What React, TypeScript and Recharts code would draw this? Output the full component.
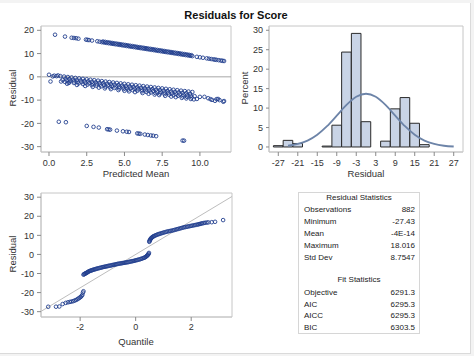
import React from 'react';
import {
  ScatterChart, Scatter, XAxis, YAxis, ReferenceLine, ReferenceArea,
  ComposedChart, Bar, Line,
} from 'recharts';

// ---------- data ----------
const title = 'Residuals for Score';

// Residual vs predicted mean (three bands)
const upperBand: [number, number][] = [
  [0.4, 18.1], [1.06, 17.3], [1.5, 16.8], [1.65, 16.7], [1.8, 16.6], [1.95, 16.4],
  [2.45, 16.0], [2.55, 15.9], [2.65, 15.8], [2.85, 15.6], [3.2, 15.3], [3.35, 15.1],
  [3.5, 14.9], [3.65, 14.75], [3.8, 14.6], [3.95, 14.45], [4.1, 14.3], [4.25, 14.15],
  [4.4, 14.0], [4.55, 13.85], [4.7, 13.7], [4.85, 13.55], [5.0, 13.4], [5.15, 13.25],
  [5.3, 13.1], [5.45, 12.95], [5.6, 12.8], [5.75, 12.65], [5.9, 12.5], [6.05, 12.35],
  [6.2, 12.2], [6.35, 12.05], [6.5, 11.9], [6.65, 11.75], [6.8, 11.6], [6.95, 11.45],
  [7.1, 11.3], [7.25, 11.15], [7.4, 11.0], [7.55, 10.85], [7.7, 10.7], [7.85, 10.55],
  [8.0, 10.4], [8.15, 10.25], [8.3, 10.1], [8.45, 9.95], [8.6, 9.8], [8.75, 9.65],
  [8.9, 9.5], [9.05, 9.35], [9.2, 9.2], [9.35, 9.05], [9.5, 8.9],
  [9.8, 8.6], [10.0, 8.4], [10.2, 8.2], [10.45, 7.95], [10.6, 7.8], [10.75, 7.65],
  [10.9, 7.5], [11.0, 7.4], [11.1, 7.3], [11.25, 7.15], [11.4, 7.0], [11.5, 6.9], [11.6, 6.8],
];

const upperBand2: [number, number][] = [
  [3.58, 15.17], [3.73, 15.02], [3.88, 14.87], [4.03, 14.72], [4.18, 14.57], [4.33, 14.42],
  [4.48, 14.27], [4.63, 14.12], [4.78, 13.97], [4.93, 13.82], [5.08, 13.67], [5.23, 13.52],
  [5.38, 13.37], [5.53, 13.22], [5.68, 13.07], [5.83, 12.92], [5.98, 12.77], [6.13, 12.62],
  [6.28, 12.47], [6.43, 12.32], [6.58, 12.17], [6.73, 12.02], [6.88, 11.87], [7.03, 11.72],
  [7.18, 11.57], [7.33, 11.42], [7.48, 11.27], [7.63, 11.12], [7.78, 10.97], [7.93, 10.82],
  [8.08, 10.67], [8.23, 10.52], [8.38, 10.37], [8.53, 10.22], [8.68, 10.07], [8.83, 9.92],
  [8.98, 9.77], [9.13, 9.62], [9.28, 9.47], [9.43, 9.32],
];

const middleTop: [number, number][] = [
  [0.75, 0.32], [1.0, 0.12], [1.25, -0.08], [1.5, -0.27], [1.75, -0.47], [2.0, -0.66],
  [2.25, -0.86], [2.5, -1.05], [2.75, -1.25], [3.0, -1.44], [3.25, -1.64], [3.5, -1.83],
  [3.75, -2.03], [4.0, -2.22], [4.25, -2.42], [4.5, -2.61], [4.75, -2.81], [5.0, -3.0],
  [5.25, -3.2], [5.5, -3.39], [5.75, -3.59], [6.0, -3.78], [6.25, -3.98], [6.5, -4.17],
  [6.75, -4.37], [7.0, -4.56], [7.25, -4.76], [7.5, -4.95], [7.75, -5.15], [8.0, -5.34],
  [8.25, -5.54], [8.5, -5.73], [8.75, -5.93], [9.0, -6.12], [9.25, -6.32], [9.5, -6.51],
];

const middleUpperMid: [number, number][] = [
  [1.1, -0.72], [1.35, -0.92], [1.6, -1.11], [1.85, -1.31], [2.1, -1.51], [2.35, -1.71],
  [2.6, -1.9], [2.85, -2.1], [3.1, -2.3], [3.35, -2.5], [3.6, -2.69], [3.85, -2.89],
  [4.1, -3.09], [4.35, -3.29], [4.6, -3.48], [4.85, -3.68], [5.1, -3.88], [5.35, -4.08],
  [5.6, -4.27], [5.85, -4.47], [6.1, -4.67], [6.35, -4.87], [6.6, -5.06], [6.85, -5.26],
  [7.1, -5.46], [7.35, -5.66], [7.6, -5.85], [7.85, -6.05], [8.1, -6.25], [8.35, -6.45],
  [8.6, -6.64], [8.85, -6.84], [9.1, -7.04], [9.35, -7.24],
];

const middleCore: [number, number][] = [
  [0.9, -1.32], [1.15, -1.52], [1.4, -1.72], [1.65, -1.92], [1.9, -2.12], [2.15, -2.32],
  [2.4, -2.52], [2.65, -2.72], [2.9, -2.92], [3.15, -3.12], [3.4, -3.32], [3.65, -3.52],
  [3.9, -3.72], [4.15, -3.92], [4.4, -4.12], [4.65, -4.32], [4.9, -4.52], [5.15, -4.72],
  [5.4, -4.92], [5.65, -5.12], [5.9, -5.32], [6.15, -5.52], [6.4, -5.72], [6.65, -5.92],
  [6.9, -6.12], [7.15, -6.32], [7.4, -6.52], [7.65, -6.72], [7.9, -6.92], [8.15, -7.12],
  [8.4, -7.32], [8.65, -7.52], [8.9, -7.72], [9.15, -7.92], [9.4, -8.12], [9.65, -8.32],
];

const middleLowerMid: [number, number][] = [
  [1.05, -2.14], [1.35, -2.38], [1.65, -2.62], [1.95, -2.86], [2.25, -3.1], [2.55, -3.34],
  [2.85, -3.58], [3.15, -3.82], [3.45, -4.06], [3.75, -4.3], [4.05, -4.54], [4.35, -4.78],
  [4.65, -5.02], [4.95, -5.26], [5.25, -5.5], [5.55, -5.74], [5.85, -5.98], [6.15, -6.22],
  [6.45, -6.46], [6.75, -6.7], [7.05, -6.94], [7.35, -7.18], [7.65, -7.42], [7.95, -7.66],
  [8.25, -7.9], [8.55, -8.14], [8.85, -8.38], [9.15, -8.62], [9.45, -8.86],
];

const middleLow: [number, number][] = [
  [1.2, -2.96], [1.85, -3.48], [2.4, -3.92], [2.9, -4.32], [3.3, -4.64], [3.7, -4.96],
  [4.1, -5.28], [4.6, -5.68], [5.0, -6.0], [5.3, -6.24], [5.7, -6.56], [6.2, -6.96],
  [6.6, -7.28], [7.0, -7.6], [7.3, -7.84], [7.7, -8.16], [8.1, -8.48], [8.4, -8.72],
  [8.8, -9.04], [9.1, -9.28], [9.4, -9.52], [9.6, -9.68],
];

const middleEnds: [number, number][] = [
  [0.0, 0.9], [0.1, -2.0], [0.25, 0.2], [0.35, 0.5], [0.5, 0.3], [0.6, 0.6], [0.8, -2.0],
  [1.3, -2.6], [9.8, -9.5], [10.0, -8.6], [10.3, -8.6], [10.55, -9.2], [10.7, -9.6],
  [10.8, -9.9], [11.0, -10.3], [11.1, -9.6], [11.2, -9.5], [11.3, -10.0], [11.55, -10.7], [11.6, -10.4],
];

const lowerBand: [number, number][] = [
  [0.65, -19.3], [1.12, -19.5], [2.5, -21.1], [2.95, -21.5], [3.3, -21.8], [3.85, -22.5],
  [3.95, -22.6], [4.05, -22.7], [4.5, -23.1], [4.9, -23.4], [5.15, -23.6], [5.3, -23.7],
  [5.85, -24.3], [5.95, -24.4], [6.05, -24.5], [6.35, -24.8], [6.55, -25.0], [6.75, -25.2],
  [6.9, -25.3], [7.1, -25.5], [8.85, -27.4], [8.95, -27.43],
];

// Histogram (bin midpoints, percent) and fitted normal curve
const binMid = [-27, -24, -21, -18, -15, -12, -9, -6, -3, 0, 3, 6, 9, 12, 15, 18, 21, 24, 27];
const binPct: (number | null)[] = [0.34, 1.7, 0.9, null, null, 0.23, 5.6, 24.4, 29.2, 6.5, null, 1.5, 9.8, 12.7, 6.1, 0.6, null, null, null];
const normalCurve: (number | null)[] = [null, 0.32, 0.77, 1.65, 3.15, 5.34, 8.06, 10.81, 12.9, 13.68, 12.9, 10.81, 8.06, 5.34, 3.15, 1.65, 0.77, 0.32, 0.12];

// Q-Q plot
const qqLower: [number, number][] = [
  [-3.15, -27.43], [-2.87, -27.4], [-2.75, -27.3], [-2.63, -26.0], [-2.52, -25.4], [-2.44, -25.1],
  [-2.37, -24.9], [-2.31, -24.7], [-2.25, -24.5], [-2.2, -24.2], [-2.15, -23.9], [-2.1, -23.5],
  [-2.06, -23.1], [-2.02, -22.7], [-1.98, -22.3], [-1.95, -21.8], [-1.92, -21.2], [-1.9, -20.0], [-1.88, -19.3],
];
const qqMiddle: [number, number][] = [
  [-1.88, -10.6], [-1.84, -10.2], [-1.8, -9.9], [-1.75, -9.5], [-1.7, -9.0], [-1.64, -8.6],
  [-1.58, -8.3], [-1.52, -8.0], [-1.45, -7.7], [-1.38, -7.4], [-1.3, -7.1], [-1.22, -6.8],
  [-1.14, -6.5], [-1.06, -6.3], [-0.98, -6.0], [-0.9, -5.8], [-0.82, -5.5], [-0.74, -5.3],
  [-0.66, -5.0], [-0.58, -4.8], [-0.5, -4.6], [-0.42, -4.4], [-0.34, -4.2], [-0.26, -4.0],
  [-0.18, -3.7], [-0.1, -3.5], [-0.02, -3.2], [0.06, -2.9], [0.14, -2.6], [0.22, -2.2],
  [0.3, -1.8], [0.36, -1.3], [0.41, -0.7], [0.45, -0.1], [0.48, 0.8],
];
const qqMiddle2: [number, number][] = [
  [-1.86, -10.4], [-1.82, -10.05], [-1.775, -9.7], [-1.725, -9.25], [-1.67, -8.8], [-1.61, -8.45],
  [-1.55, -8.15], [-1.485, -7.85], [-1.415, -7.55], [-1.34, -7.25], [-1.26, -6.95], [-1.18, -6.65],
  [-1.1, -6.4], [-1.02, -6.15], [-0.94, -5.9], [-0.86, -5.65], [-0.78, -5.4], [-0.7, -5.15],
  [-0.62, -4.9], [-0.54, -4.7], [-0.46, -4.5], [-0.38, -4.3], [-0.3, -4.1], [-0.22, -3.85],
  [-0.14, -3.6], [-0.06, -3.35], [0.02, -3.05], [0.1, -2.75], [0.18, -2.4], [0.26, -2.0],
  [0.33, -1.55], [0.385, -1.0], [0.43, -0.4], [0.465, 0.35],
];
const qqUpper: [number, number][] = [
  [0.49, 6.6], [0.51, 7.4], [0.54, 8.2], [0.58, 8.8], [0.63, 9.4], [0.7, 9.9], [0.78, 10.4],
  [0.86, 10.8], [0.95, 11.2], [1.04, 11.6], [1.14, 12.0], [1.24, 12.3], [1.34, 12.6],
  [1.44, 13.0], [1.54, 13.4], [1.64, 13.8], [1.74, 14.2], [1.84, 14.5], [1.94, 14.8],
  [2.04, 15.1], [2.14, 15.4], [2.24, 15.7], [2.32, 16.0], [2.4, 16.3], [2.5, 16.6],
  [2.62, 16.8], [2.74, 16.9], [2.86, 17.1], [3.15, 18.0],
];
const qqUpper2: [number, number][] = [
  [0.5, 7.0], [0.525, 7.8], [0.56, 8.5], [0.605, 9.1], [0.665, 9.65], [0.74, 10.15],
  [0.82, 10.6], [0.905, 11.0], [0.995, 11.4], [1.09, 11.8], [1.19, 12.15], [1.29, 12.45],
  [1.39, 12.8], [1.49, 13.2], [1.59, 13.6], [1.69, 14.0], [1.79, 14.35], [1.89, 14.65],
  [1.99, 14.95], [2.09, 15.25], [2.19, 15.55], [2.28, 15.85], [2.36, 16.15], [2.45, 16.45], [2.56, 16.7],
];

// Tables
const residStatLabels = ['Observations', 'Minimum', 'Mean', 'Maximum', 'Std Dev'];
const residStatValues = ['882', '-27.43', '-4E-14', '18.016', '8.7547'];
const fitStatLabels = ['Objective', 'AIC', 'AICC', 'BIC'];
const fitStatValues = ['6291.3', '6295.3', '6295.3', '6303.5'];
const residMean = 0;
const residStd = 8.7547;

// axis ticks
const predTicks = [0, 2.5, 5, 7.5, 10];
const residTicks1 = [-30, -20, -10, 0, 10, 20];
const histXTicks = [-27, -21, -15, -9, -3, 3, 9, 15, 21, 27];
const histYTicks = [0, 5, 10, 15, 20, 25, 30];
const qqXTicks = [-2, 0, 2];
const qqYTicks = [-30, -20, -10, 0, 10, 20, 30];

// ---------- style ----------
const FONT = '"Liberation Sans", Arial, Helvetica, sans-serif';
const BLUE = '#233f8f';
const FRAME = '#c6c6c6';
const TICK = { fontSize: 9, fill: '#333', fontFamily: FONT };

const toXY = (a: [number, number][]) => a.map(([x, y]) => ({ x, y }));

const Dot = (props: any) => {
  const { cx, cy } = props;
  if (cx == null || cy == null) return null;
  return <circle cx={cx} cy={cy} r={1.8} fill="none" stroke={BLUE} strokeWidth={0.9} />;
};

const label = (text: string, x: number, y: number, rotate = false): React.ReactNode => (
  <div
    style={{
      position: 'absolute', left: x, top: y, whiteSpace: 'nowrap',
      transform: `translate(-50%, -50%)${rotate ? ' rotate(-90deg)' : ''}`,
      fontSize: 9.5, color: '#333', fontFamily: FONT, lineHeight: 1,
    }}
  >
    {text}
  </div>
);

const axisCommon = {
  axisLine: { stroke: FRAME },
  tickLine: { stroke: '#8a8a8a' },
  tick: TICK,
  allowDataOverflow: true,
  interval: 0 as const,
};

export default function App() {
  const d1 = [-0.53, 12.06];
  const r1 = [-32.3, 21.85];
  const hx = [-29.86, 29.86];
  const hy = [-1.29, 31.1];
  const qx = [-3.41, 3.47];
  const qy = [-32.8, 32.2];

  const histRows = binMid.map((m, i) => ({ x: m, pct: binPct[i], curve: normalCurve[i] }));
  const panel1Series = [upperBand, upperBand2, middleTop, middleUpperMid, middleCore, middleLowerMid, middleLow, middleEnds, lowerBand];
  const qqSeries = [qqLower, qqMiddle, qqMiddle2, qqUpper, qqUpper2];

  return (
    <div style={{ position: 'absolute', left: 0, top: 0, width: 474, height: 356, background: '#f3f3f3', fontFamily: FONT }}>
      <div style={{ position: 'absolute', left: 0, top: 3, width: 470, height: 350, background: '#fff', borderRight: '1px solid #dadada', borderBottom: '1px solid #dadada' }} />

      <div style={{ position: 'absolute', left: 236, top: 15, transform: 'translate(-50%, -50%)', fontWeight: 'bold', fontSize: 11, color: '#111', whiteSpace: 'nowrap', lineHeight: 1 }}>
        {title}
      </div>

      {/* Panel 1: residual vs predicted */}
      <div style={{ position: 'absolute', left: 0, top: 0 }}>
        <ScatterChart width={240} height={185} margin={{ top: 26, right: 9, bottom: 0, left: 0 }} style={{ fontFamily: FONT }}>
          <XAxis type="number" dataKey="x" domain={d1} ticks={predTicks} tickFormatter={(v: number) => v.toFixed(1)} height={33} tickSize={4} tickMargin={4} {...axisCommon} />
          <YAxis type="number" dataKey="y" domain={r1} ticks={residTicks1} width={41} tickSize={4} tickMargin={3} {...axisCommon} />
          <ReferenceArea x1={d1[0]} x2={d1[1]} y1={r1[0]} y2={r1[1]} fill="none" stroke={FRAME} ifOverflow="visible" />
          <ReferenceLine y={0} stroke="#a8a8a8" strokeWidth={1} />
          {panel1Series.map((s, i) => (
            <Scatter key={i} data={toXY(s)} shape={Dot} isAnimationActive={false} />
          ))}
        </ScatterChart>
      </div>
      {label('Residual', 13, 88, true)}
      {label('Predicted Mean', 136, 174)}

      {/* Panel 2: histogram */}
      <div style={{ position: 'absolute', left: 235, top: 0 }}>
        <ComposedChart width={239} height={185} data={histRows} margin={{ top: 26, right: 11, bottom: 0, left: 0 }} style={{ fontFamily: FONT }}>
          <XAxis type="number" dataKey="x" domain={hx} ticks={histXTicks} height={33} tickSize={4} tickMargin={4} {...axisCommon} />
          <YAxis type="number" domain={hy} ticks={histYTicks} width={34} tickSize={3} tickMargin={3} {...axisCommon} />
          <ReferenceArea x1={hx[0]} x2={hx[1]} y1={hy[0]} y2={hy[1]} fill="none" stroke={FRAME} ifOverflow="visible" />
          <Bar dataKey="pct" barSize={9.6} fill="#c9d4e6" stroke="#2a2a2a" strokeWidth={1} isAnimationActive={false} />
          <Line dataKey="curve" type="monotone" stroke="#6d84a8" strokeWidth={1.8} dot={false} connectNulls isAnimationActive={false} />
        </ComposedChart>
      </div>
      {label('Percent', 245, 88, true)}
      {label('Residual', 366, 174)}

      {/* Panel 3: Q-Q plot */}
      <div style={{ position: 'absolute', left: 0, top: 170 }}>
        <ScatterChart width={240} height={180} margin={{ top: 23, right: 8, bottom: 0, left: 0 }} style={{ fontFamily: FONT }}>
          <XAxis type="number" dataKey="x" domain={qx} ticks={qqXTicks} height={33} tickSize={4} tickMargin={3} {...axisCommon} />
          <YAxis type="number" dataKey="y" domain={qy} ticks={qqYTicks} width={41} tickSize={4} tickMargin={3} {...axisCommon} />
          <ReferenceArea x1={qx[0]} x2={qx[1]} y1={qy[0]} y2={qy[1]} fill="none" stroke={FRAME} ifOverflow="visible" />
          <ReferenceLine
            segment={[
              { x: qx[0], y: residMean + residStd * qx[0] },
              { x: qx[1], y: residMean + residStd * qx[1] },
            ]}
            stroke="#bdbdbd" strokeWidth={1} ifOverflow="visible"
          />
          {qqSeries.map((s, i) => (
            <Scatter key={i} data={toXY(s)} shape={Dot} isAnimationActive={false} />
          ))}
        </ScatterChart>
      </div>
      {label('Residual', 13, 254, true)}
      {label('Quantile', 136, 342)}

      {/* Panel 4: statistics table */}
      <div style={{ position: 'absolute', left: 298, top: 192, width: 122, height: 142, border: '1px solid #d6d6d6', boxSizing: 'border-box', fontSize: 8, color: '#222', fontFamily: FONT }}>
        <div style={{ position: 'absolute', left: 0, right: 0, top: -1, height: 12, lineHeight: '12px', textAlign: 'center' }}>Residual Statistics</div>
        {residStatLabels.map((l, i) => (
          <div key={l} style={{ position: 'absolute', left: 5, right: 4, top: 11 + 12 * i, height: 12, lineHeight: '12px' }}>
            <span>{l}</span>
            <span style={{ position: 'absolute', right: 0 }}>{residStatValues[i]}</span>
          </div>
        ))}
        <div style={{ position: 'absolute', left: 0, right: 0, top: 81, height: 12, lineHeight: '12px', textAlign: 'center' }}>Fit Statistics</div>
        {fitStatLabels.map((l, i) => (
          <div key={l} style={{ position: 'absolute', left: 5, right: 4, top: 94 + 11.7 * i, height: 12, lineHeight: '12px' }}>
            <span>{l}</span>
            <span style={{ position: 'absolute', right: 0 }}>{fitStatValues[i]}</span>
          </div>
        ))}
      </div>
    </div>
  );
}
